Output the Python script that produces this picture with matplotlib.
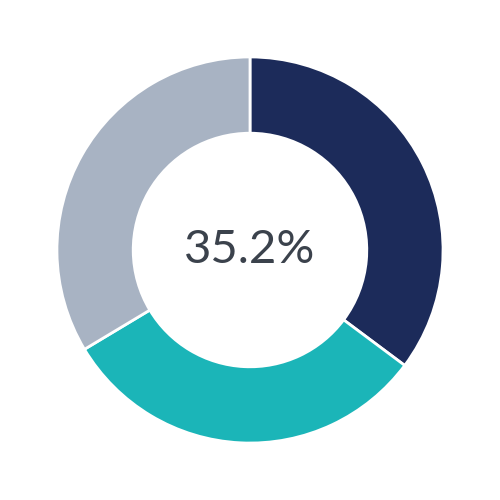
import matplotlib.pyplot as plt

labels = ['Navy', 'Teal', 'Grey']
values = [35.2, 31.2, 33.6]
colors = ['#1c2b5a', '#1bb5b8', '#a8b3c3']
center_label = '35.2%'

fig, ax = plt.subplots(figsize=(5, 5), dpi=100)
fig.subplots_adjust(left=0, right=1, bottom=0, top=1)

ax.pie(values, colors=colors, startangle=90, counterclock=False,
       radius=1.0,
       wedgeprops=dict(width=0.395, edgecolor='white', linewidth=2))

ax.text(0, 0, center_label, ha='center', va='center', fontsize=34,
        family='Lato', fontweight='normal', color='#3b424c')

ax.set_xlim(-1.295, 1.295)
ax.set_ylim(-1.295, 1.295)
ax.set_aspect('equal')
ax.axis('off')

plt.savefig('out.png', dpi=100, facecolor='white')
